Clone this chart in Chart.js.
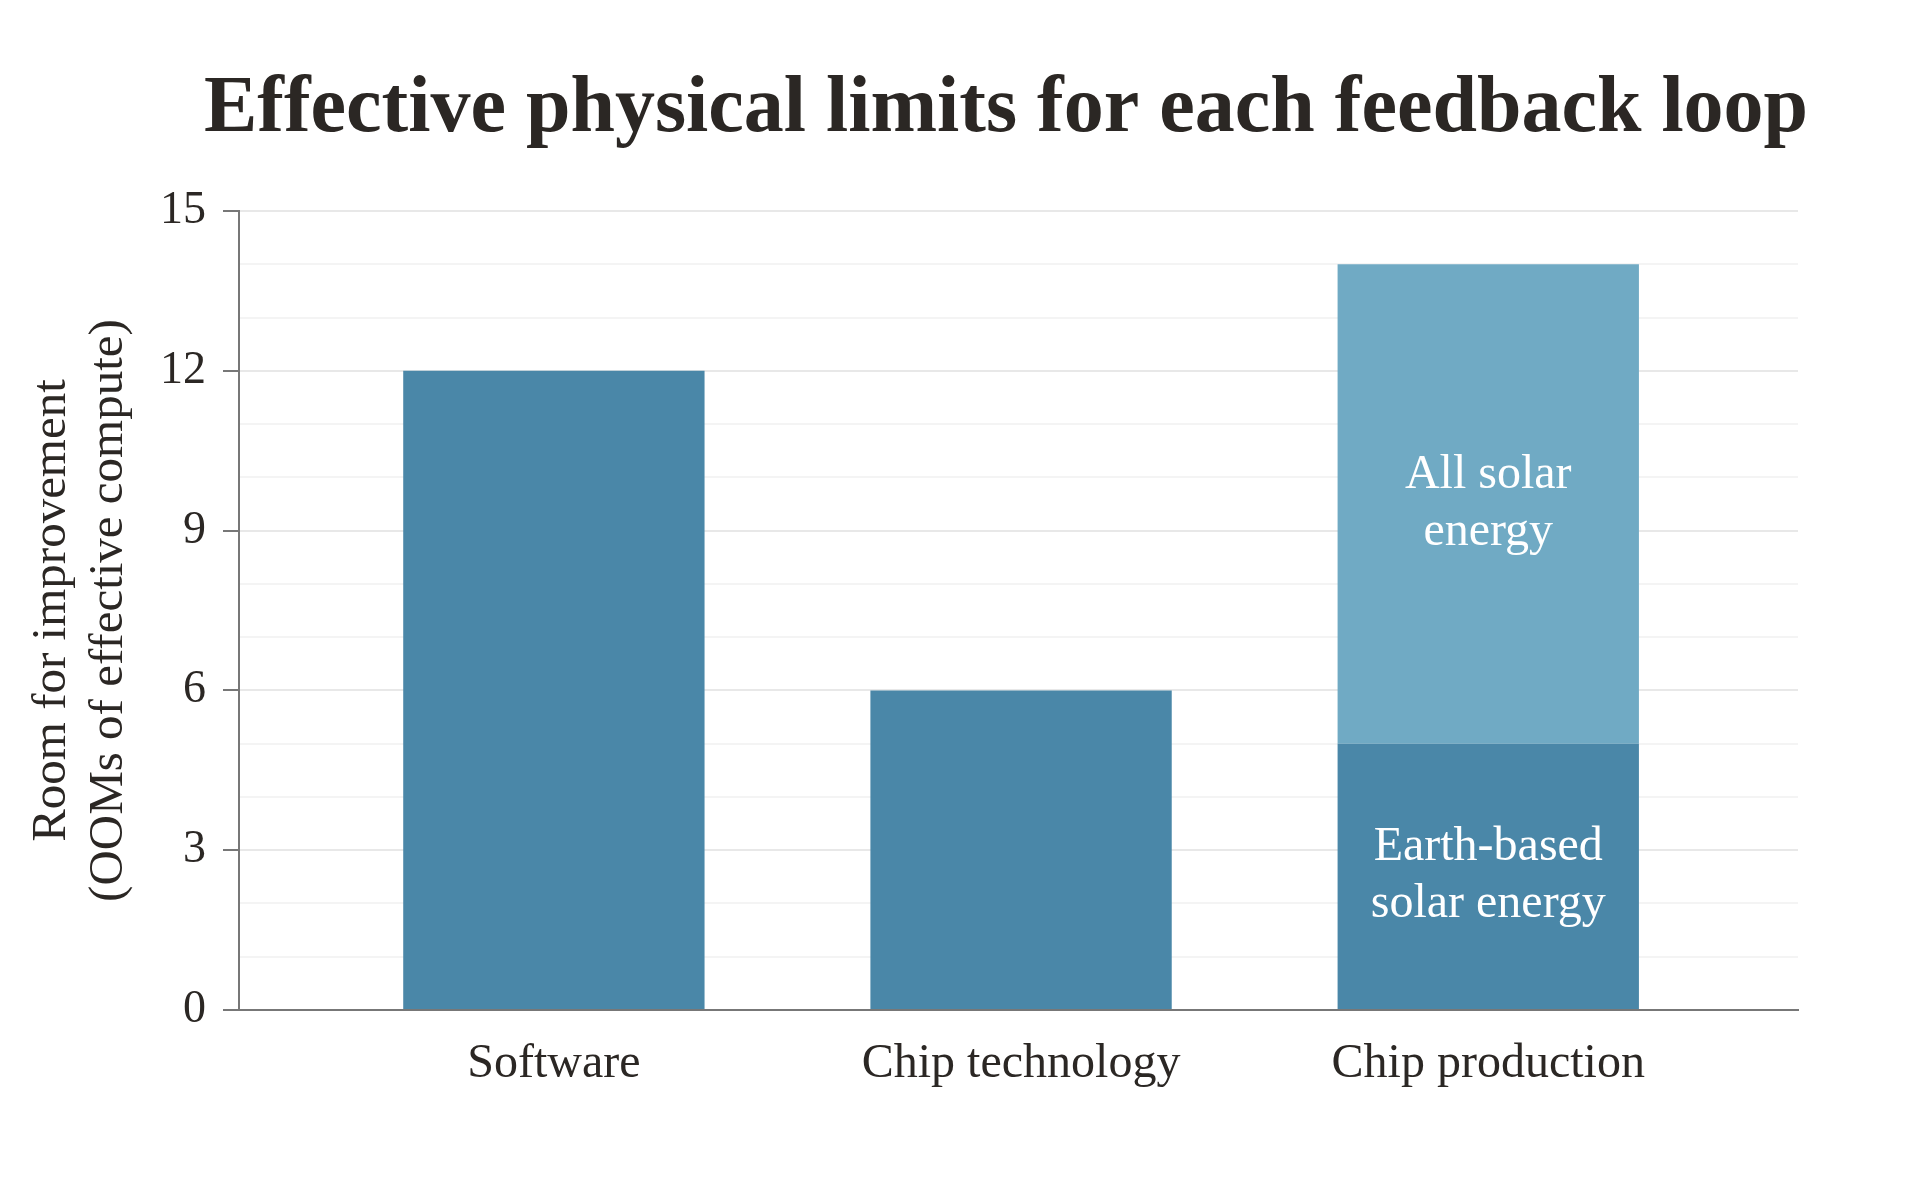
<!DOCTYPE html>
<html>
<head>
<meta charset="utf-8">
<script src="https://cdn.jsdelivr.net/npm/chart.js@4.4.1/dist/chart.umd.min.js"></script>
<style>
  html, body { margin: 0; padding: 0; background: #fff; }
  #wrap { position: relative; width: 1920px; height: 1203px; }
</style>
</head>
<body>
<div id="wrap"><canvas id="chart" width="1920" height="1203"></canvas></div>
<script>
const title = 'Effective physical limits for each feedback loop';
const yTitle = ['Room for improvement', '(OOMs of effective compute)'];
const categories = ['Software', 'Chip technology', 'Chip production'];
// earth-based part of each bar, and the extra part stacked on top
const baseValues = [12, 6, 5];
const extraValues = [0, 0, 9];
const baseLabel = ['Earth-based', 'solar energy'];
const extraLabel = ['All solar', 'energy'];
const yMax = 15;
const yLabelStep = 3;

const serif = '"Liberation Serif", "DejaVu Serif", serif';
const textColor = '#2b2724';

const titlePlugin = {
  id: 'bigTitle',
  afterDraw(chart) {
    const ctx = chart.ctx;
    ctx.save();
    ctx.font = 'bold 80px ' + serif;
    ctx.fillStyle = textColor;
    ctx.textAlign = 'center';
    ctx.textBaseline = 'alphabetic';
    ctx.fillText(title, 1006, 131);
    ctx.restore();
  }
};

// white text centred on the chip production segments
const segLabels = {
  id: 'segLabels',
  afterDatasetsDraw(chart) {
    const ctx = chart.ctx;
    const last = categories.length - 1;
    [[0, baseLabel], [1, extraLabel]].forEach(([di, lines]) => {
      const bar = chart.getDatasetMeta(di).data[last];
      const p = bar.getProps(['x', 'y', 'base'], true);
      const cy = (p.y + p.base) / 2;
      const lh = 57;
      ctx.save();
      ctx.font = '48px ' + serif;
      ctx.fillStyle = '#ffffff';
      ctx.textAlign = 'center';
      ctx.textBaseline = 'middle';
      lines.forEach((t, i) => {
        ctx.fillText(t, p.x, cy + (i - (lines.length - 1) / 2) * lh);
      });
      ctx.restore();
    });
  }
};

new Chart(document.getElementById('chart'), {
  type: 'bar',
  data: {
    datasets: [
      {
        label: 'Earth-based',
        data: baseValues.map((v, i) => ({ x: i, y: v })),
        backgroundColor: '#4a87a8',
        borderWidth: 0,
        barPercentage: 0.645,
        categoryPercentage: 1
      },
      {
        label: 'All solar',
        data: extraValues.map((v, i) => ({ x: i, y: v })),
        backgroundColor: '#70aac4',
        borderWidth: 0,
        barPercentage: 0.645,
        categoryPercentage: 1
      }
    ]
  },
  options: {
    responsive: false,
    animation: false,
    layout: { padding: { left: 13, right: 122, top: 211, bottom: 0 } },
    plugins: {
      legend: { display: false },
      tooltip: { enabled: false },
      title: { display: false }
    },
    scales: {
      x: {
        type: 'linear',
        stacked: true,
        offset: false,
        min: -0.674,
        max: 2.663,
        afterBuildTicks: s => { s.ticks = categories.map((c, i) => ({ value: i })); },
        afterFit: s => { s.height = 193; },
        grid: { display: false, offset: false },
        border: { display: true, color: '#777777', width: 2 },
        ticks: {
          autoSkip: false,
          maxRotation: 0,
          padding: 18,
          color: textColor,
          font: { family: serif, size: 48 },
          callback: v => categories[v]
        }
      },
      y: {
        stacked: true,
        min: 0,
        max: yMax,
        afterFit: s => { s.width = 226; },
        border: { display: true, color: '#777777', width: 2 },
        grid: {
          color: c => (c.tick.value % yLabelStep === 0 ? '#e8e8e8' : '#f4f4f4'),
          lineWidth: 2,
          tickColor: c => (c.tick.value % yLabelStep === 0 ? '#777777' : 'rgba(0,0,0,0)'),
          tickLength: 16,
          drawTicks: true
        },
        ticks: {
          autoSkip: false,
          stepSize: 1,
          padding: 17,
          color: textColor,
          font: { family: serif, size: 46 },
          callback: v => (v % yLabelStep === 0 ? v : '')
        },
        title: {
          display: true,
          text: yTitle,
          color: textColor,
          font: { family: serif, size: 49, lineHeight: 1.16 },
          padding: { top: 11, bottom: 0 }
        }
      }
    }
  },
  plugins: [titlePlugin, segLabels]
});
</script>
</body>
</html>
